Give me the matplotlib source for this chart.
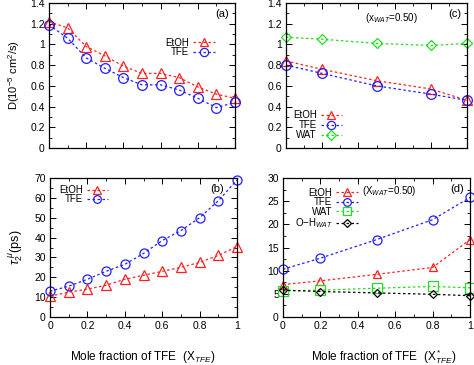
import matplotlib
matplotlib.use("Agg")
import matplotlib.pyplot as plt
from matplotlib.ticker import MultipleLocator

plt.rcParams['font.family'] = ['Liberation Sans', 'DejaVu Sans']
plt.rcParams['mathtext.fontset'] = 'custom'
plt.rcParams['mathtext.rm'] = 'Liberation Sans'
plt.rcParams['mathtext.it'] = 'Liberation Sans:italic'

# Panel (a): diffusion coefficient vs X_TFE
x_ab = [0, 0.1, 0.2, 0.3, 0.4, 0.5, 0.6, 0.7, 0.8, 0.9, 1.0]
a_etoh = [1.22, 1.16, 0.98, 0.89, 0.79, 0.72, 0.72, 0.68, 0.59, 0.52, 0.48]
a_tfe = [1.19, 1.06, 0.87, 0.77, 0.68, 0.61, 0.61, 0.56, 0.48, 0.39, 0.44]

# Panel (b): tau_2 vs X_TFE
b_etoh = [10.5, 12.5, 14.0, 16.0, 19.0, 21.0, 23.0, 25.0, 27.5, 31.0, 35.5]
b_tfe = [13.0, 15.5, 19.0, 23.0, 26.5, 32.0, 38.5, 43.5, 50.0, 58.5, 69.0]

# Panel (c): diffusion at X_WAT = 0.50
x_cd = [0, 0.2, 0.5, 0.8, 1.0]
c_etoh = [0.84, 0.76, 0.65, 0.57, 0.46]
c_tfe = [0.80, 0.72, 0.60, 0.52, 0.46]
c_wat = [1.07, 1.05, 1.01, 0.99, 1.01]

# Panel (d): tau_2 at X_WAT = 0.50
d_etoh = [7.0, 7.8, 9.2, 10.7, 16.7]
d_tfe = [10.3, 12.7, 16.7, 21.0, 25.8]
d_wat = [5.6, 5.8, 6.2, 6.6, 6.3]
d_oh = [5.8, 5.5, 5.2, 4.9, 4.6]

RED = '#ff2020'
BLUE = '#1f1fff'
GREEN = '#22dd22'
BLACK = '#000000'
LS = (0, (2, 2))

W, H = 474, 365
fig = plt.figure(figsize=(W / 100, H / 100), dpi=100)

def ax_px(l, r, t, b):
    return fig.add_axes([l / W, (H - b) / H, (r - l) / W, (b - t) / H])

axa = ax_px(49, 235, 3, 148)
axb = ax_px(50, 237, 178, 317)
axc = ax_px(286, 467, 3, 148)
axd = ax_px(283, 470, 178, 317)

FS = 7.5
LFS = 7

def style(ax, ylim, ymaj, ymin, xlabels=True):
    ax.set_xlim(0, 1)
    ax.set_ylim(*ylim)
    ax.xaxis.set_major_locator(MultipleLocator(0.2))
    ax.xaxis.set_minor_locator(MultipleLocator(0.1))
    ax.yaxis.set_major_locator(MultipleLocator(ymaj))
    ax.yaxis.set_minor_locator(MultipleLocator(ymin))
    ax.tick_params(which='both', direction='in', top=True, right=True,
                   labelsize=FS, pad=3)
    ax.tick_params(which='major', length=4, width=0.7)
    ax.tick_params(which='minor', length=2.5, width=0.6)
    for s in ax.spines.values():
        s.set_linewidth(0.9)
    if not xlabels:
        ax.set_xticklabels([])
    else:
        ax.set_xticks([0, 0.2, 0.4, 0.6, 0.8, 1.0])
        ax.set_xticklabels(['0', '0.2', '0.4', '0.6', '0.8', '1'])

def yfmt(ax, vals):
    ax.set_yticks(vals)
    ax.set_yticklabels([('%g' % v) for v in vals])

def plot(ax, x, y, color, marker, ms, label):
    ax.plot(x, y, linestyle=LS, color=color, lw=0.9, marker=marker, ms=ms,
            mfc='none', mec=color, mew=0.9, label=label, clip_on=False)

def legend(ax, anchor, spacing=-0.05):
    ax.legend(loc='upper right', bbox_to_anchor=anchor, frameon=False,
              markerfirst=False, fontsize=LFS, handlelength=2.2,
              handletextpad=0.4, labelspacing=spacing, borderpad=0,
              borderaxespad=0, markerscale=0.85)

# (a)
plot(axa, x_ab, a_etoh, RED, '^', 7.5, 'EtOH')
plot(axa, x_ab, a_tfe, BLUE, 'o', 7, 'TFE')
style(axa, (0, 1.4), 0.2, 0.1, xlabels=False)
yfmt(axa, [0, 0.2, 0.4, 0.6, 0.8, 1.0, 1.2, 1.4])
axa.set_ylabel('D(10$^{-5}$ cm$^2$/s)', fontsize=FS + 0.5, labelpad=6)
axa.text(0.97, 0.96, '(a)', transform=axa.transAxes, ha='right', va='top', fontsize=FS + 0.5)
legend(axa, (0.89, 0.76))

# (b)
plot(axb, x_ab, b_etoh, RED, '^', 6.5, 'EtOH')
plot(axb, x_ab, b_tfe, BLUE, 'o', 6.5, 'TFE')
style(axb, (0, 70), 10, 5)
yfmt(axb, [0, 10, 20, 30, 40, 50, 60, 70])
axb.set_ylabel(r'$\tau_2^{\ \mu}$(ps)', fontsize=FS + 1.5, labelpad=6)
axb.text(0.93, 0.96, '(b)', transform=axb.transAxes, ha='right', va='top', fontsize=FS + 0.5)
legend(axb, (0.31, 0.95))

# (c)
plot(axc, x_cd, c_etoh, RED, '^', 7, 'EtOH')
plot(axc, x_cd, c_tfe, BLUE, 'o', 7, 'TFE')
plot(axc, x_cd, c_wat, GREEN, 'D', 5.5, 'WAT')
style(axc, (0, 1.4), 0.2, 0.1, xlabels=False)
yfmt(axc, [0, 0.2, 0.4, 0.6, 0.8, 1.0, 1.2, 1.4])
axc.text(0.97, 0.96, '(c)', transform=axc.transAxes, ha='right', va='top', fontsize=FS + 0.5)
axc.text(0.585, 0.895, '(x$_{WAT}$=0.50)', transform=axc.transAxes, ha='center', va='center', fontsize=LFS)
legend(axc, (0.31, 0.26), spacing=0.0)

# (d)
plot(axd, x_cd, d_etoh, RED, '^', 6, 'EtOH')
plot(axd, x_cd, d_tfe, BLUE, 'o', 6.5, 'TFE')
plot(axd, x_cd, d_wat, GREEN, 's', 6.5, 'WAT')
plot(axd, x_cd, d_oh, BLACK, 'D', 4.5, 'O$-$H$_{WAT}$')
style(axd, (0, 30), 5, 2.5)
yfmt(axd, [0, 5, 10, 15, 20, 25, 30])
axd.text(0.97, 0.96, '(d)', transform=axd.transAxes, ha='right', va='top', fontsize=FS + 0.5)
axd.text(0.57, 0.905, '(X$_{WAT}$=0.50)', transform=axd.transAxes, ha='center', va='center', fontsize=LFS)
legend(axd, (0.40, 0.93), spacing=-0.05)

# x-axis titles
fig.text(143 / W, 1 - 357 / H, 'Mole fraction of TFE  (X$_{TFE}$)', ha='center', va='center', fontsize=FS + 1)
fig.text(384 / W, 1 - 357 / H, 'Mole fraction of TFE  (X$^*_{TFE}$)', ha='center', va='center', fontsize=FS + 1)

fig.savefig('out.png', dpi=100)
